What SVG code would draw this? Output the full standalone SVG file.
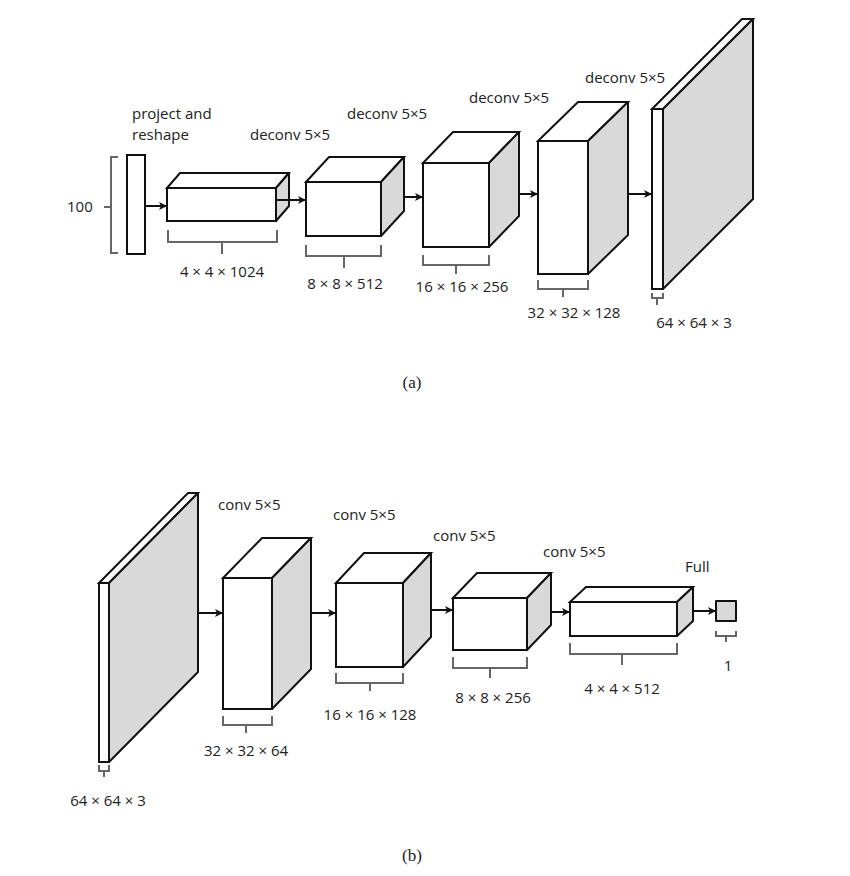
<svg xmlns="http://www.w3.org/2000/svg" width="850" height="876" viewBox="0 0 850 876">
<style>
.f{fill:#fff;stroke:#111;stroke-width:2}
.s{fill:#d9d9d9;stroke:#111;stroke-width:2;stroke-linejoin:round}
.br{fill:none;stroke:#666;stroke-width:2}
.c{fill:none;stroke:#111;stroke-width:2;marker-end:url(#a)}
text{font-family:"Open Sans","Liberation Sans",sans-serif;font-size:15px;fill:#222}
.m{text-anchor:middle}
.cap{font-family:"Liberation Serif",serif;font-size:17px}
</style>
<defs><marker id="a" markerWidth="8" markerHeight="8" refX="7" refY="4" orient="auto" markerUnits="userSpaceOnUse"><path d="M0,0 L8,4 L0,8 L2,4 z" fill="#111"/></marker></defs>
<rect width="850" height="876" fill="#fff"/>
<g id="a_input"><rect class="f" x="127" y="155" width="18" height="99"/>
<path class="br" d="M118,157 H111 V253 H118 M111,207 H104"/>
<text x="67" y="212">100</text><text x="132" y="119">project and</text><text x="132" y="140">reshape</text></g>
<g id="a_l1"><polygon class="f" points="167,188 180,173 289,173 276,188"/><polygon class="s" points="276,188 289,173 289,206 276,221"/><rect class="f" x="167" y="188" width="109" height="33"/>
<path class="br" d="M168,230 V242 H277 V230 M222,242 V254"/><text class="m" x="222" y="277">4 × 4 × 1024</text><text x="250" y="140">deconv 5×5</text></g>
<g id="a_l2"><polygon class="f" points="306,182 329,157 404,157 381,182"/><polygon class="s" points="381,182 404,157 404,211 381,236"/><rect class="f" x="306" y="182" width="75" height="54"/>
<path class="br" d="M306,245 V256 H381 V245 M344,256 V268"/><text class="m" x="345" y="289">8 × 8 × 512</text><text x="347" y="119">deconv 5×5</text></g>
<g id="a_l3"><polygon class="f" points="423,163 453,132 519,132 489,163"/><polygon class="s" points="489,163 519,132 519,216 489,247"/><rect class="f" x="423" y="163" width="66" height="84"/>
<path class="br" d="M423,255 V265 H489 V255 M456,265 V274"/><text class="m" x="462" y="292">16 × 16 × 256</text><text x="469" y="103">deconv 5×5</text></g>
<g id="a_l4"><polygon class="f" points="538,141 578,102 628,102 588,141"/><polygon class="s" points="588,141 628,102 628,235 588,274"/><rect class="f" x="538" y="141" width="50" height="133"/>
<path class="br" d="M538,280 V289 H588 V280 M563,289 V297"/><text class="m" x="574" y="318">32 × 32 × 128</text><text x="585" y="83">deconv 5×5</text></g>
<g id="a_l5"><polygon class="f" points="652,109 742,19 753,19 663,109"/><polygon class="s" points="663,109 753,19 753,199 663,289"/><rect class="f" x="652" y="109" width="11" height="180"/>
<path class="br" d="M652,293 V298 H663 V293 M657,298 V305"/><text class="m" x="694" y="328">64 × 64 × 3</text></g>
<text class="cap m" x="412" y="388">(a)</text>
<g id="b_l1"><polygon class="f" points="99,583 188,493 198,493 109,583"/><polygon class="s" points="109,583 198,493 198,672 109,762"/><rect class="f" x="99" y="583" width="10" height="179"/>
<path class="br" d="M99,765 V771 H109 V765 M104,771 V777"/><text class="m" x="108" y="806">64 × 64 × 3</text></g>
<g id="b_l2"><polygon class="f" points="223,578 262,538 311,538 272,578"/><polygon class="s" points="272,578 311,538 311,669 272,709"/><rect class="f" x="223" y="578" width="49" height="131"/>
<path class="br" d="M223,716 V725 H272 V716 M246,725 V733"/><text class="m" x="246" y="756">32 × 32 × 64</text><text x="218" y="510">conv 5×5</text></g>
<g id="b_l3"><polygon class="f" points="336,583 364,553 431,553 403,583"/><polygon class="s" points="403,583 431,553 431,637 403,667"/><rect class="f" x="336" y="583" width="67" height="84"/>
<path class="br" d="M336,673 V683 H403 V673 M370,683 V691"/><text class="m" x="370" y="720">16 × 16 × 128</text><text x="333" y="520">conv 5×5</text></g>
<g id="b_l4"><polygon class="f" points="453,598 477,573 551,573 527,598"/><polygon class="s" points="527,598 551,573 551,625 527,650"/><rect class="f" x="453" y="598" width="74" height="52"/>
<path class="br" d="M453,657 V668 H527 V657 M490,668 V678"/><text class="m" x="493" y="703">8 × 8 × 256</text><text x="433" y="541">conv 5×5</text></g>
<g id="b_l5"><polygon class="f" points="570,602 586,587 693,587 677,602"/><polygon class="s" points="677,602 693,587 693,621 677,636"/><rect class="f" x="570" y="602" width="107" height="34"/>
<path class="br" d="M570,643 V654 H677 V643 M622,654 V665"/><text class="m" x="622" y="694">4 × 4 × 512</text><text x="543" y="557">conv 5×5</text></g>
<g id="b_out"><rect class="s" x="716" y="601" width="20" height="20"/>
<path class="br" d="M716,631 V636 H736 V631 M726,636 V642"/><text class="m" x="728" y="671">1</text><text x="685" y="572">Full</text></g>
<text class="cap m" x="412" y="861">(b)</text>
<g id="connectors">
<path class="c" d="M145,206 H166"/><path class="c" d="M277,200 H305"/><path class="c" d="M404,197 H422"/><path class="c" d="M519,194 H537"/><path class="c" d="M628,194 H651"/>
<path class="c" d="M199,613 H222"/><path class="c" d="M311,613 H335"/><path class="c" d="M431,610 H452"/><path class="c" d="M551,612 H569"/><path class="c" d="M693,611 H715"/>
</g>
</svg>
